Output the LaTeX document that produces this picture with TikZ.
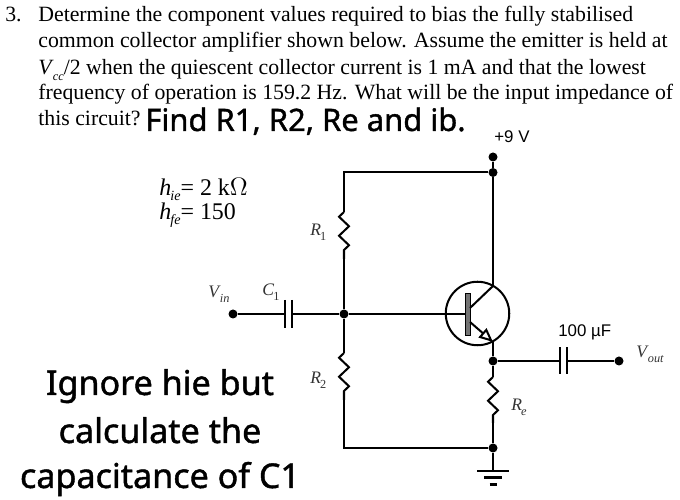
\documentclass[tikz,border=0pt]{standalone}
\usepackage{fontspec}
\setmainfont{Liberation Serif}
\setsansfont{Liberation Sans}
\newfontfamily\notefont[FakeBold=1.2]{Noto Sans}
\usetikzlibrary{arrows.meta,decorations.pathmorphing}
\newcommand{\sub}[2]{\textit{#1}\kern-0.5pt\raisebox{-0.6ex}{\scriptsize\textit{#2}}}
\newcommand{\subbig}[2]{\textit{#1}\kern-0.5pt\raisebox{-0.45ex}{\footnotesize\textit{#2}}}
\tikzset{
    wire/.style={line width=1.15pt},
    junction/.style={circle, fill=black, inner sep=0pt, minimum size=0.18cm},
    resistor/.style={wire, decorate, decoration={zigzag, segment length=3.8mm, amplitude=-1mm}},
    question/.style={anchor=base west, inner sep=0pt, font=\fontsize{12.4}{14}\selectfont},
    bigtext/.style={anchor=base, inner sep=0pt, font=\notefont\fontsize{19.4}{23}\selectfont},
    circlabel/.style={anchor=base west, inner sep=0pt, text=black!80, font=\fontsize{10}{12}\selectfont},
    value/.style={anchor=base west, inner sep=0pt, font=\fontsize{13.6}{16}\selectfont},
    sanslabel/.style={anchor=base west, inner sep=0pt, font=\sffamily\fontsize{9.6}{11}\selectfont}
}
\begin{document}
\begin{tikzpicture}
    \useasboundingbox (0,0) rectangle (13.6,10);

    % Question text
    \node[question] (num) at (0.10,9.57) {3.};
    \node[question] (line1) at (0.76,9.57) {Determine the component values required to bias the fully stabilised};
    \node[question] (line2) at (0.76,9.05) {common collector amplifier shown below. Assume the emitter is held at};
    \node[question] (line3) at (0.76,8.51) {\sub{V}{cc}/2 when the quiescent collector current is 1 mA and that the lowest};
    \node[question] (line4) at (0.76,8.01) {frequency of operation is 159.2 Hz. What will be the input impedance of};
    \node[question] (line5) at (0.76,7.49) {this circuit?};
    \node[anchor=base west, inner sep=0pt, font=\notefont\fontsize{17.6}{21}\selectfont] (find) at (2.90,7.38) {Find R1, R2, Re and ib.};

    % Handwritten style notes
    \node[bigtext] (note1) at (3.20,2.10) {Ignore hie but};
    \node[bigtext] (note2) at (3.20,1.14) {calculate the};
    \node[bigtext] (note3) at (3.20,0.24) {capacitance of C1};

    % Points of the circuit
    \node[junction] (vcc) at (9.86,6.86) {};
    \node[junction] (top) at (9.86,6.55) {};
    \coordinate (topleft) at (6.88,6.55);
    \coordinate (r1a) at (6.88,5.76);
    \coordinate (r1b) at (6.88,4.82);
    \node[junction] (base) at (6.88,3.72) {};
    \coordinate (r2a) at (6.88,2.94);
    \coordinate (r2b) at (6.88,2.00);
    \coordinate (botleft) at (6.88,1.04);
    \node[junction] (vin) at (4.66,3.72) {};
    \coordinate (c1a) at (5.70,3.72);
    \coordinate (c1b) at (5.84,3.72);
    \node[junction] (emit) at (9.86,2.78) {};
    \coordinate (rea) at (9.86,2.46);
    \coordinate (reb) at (9.86,1.54);
    \node[junction] (bot) at (9.86,1.04) {};
    \coordinate (gnd) at (9.86,0.58);
    \coordinate (c2a) at (11.20,2.78);
    \coordinate (c2b) at (11.34,2.78);
    \node[junction] (vout) at (12.38,2.78) {};

    % Transistor
    \node[draw, wire, circle, inner sep=0pt, minimum size=1.27cm] (q1) at (9.55,3.73) {};
    \node[draw=black, fill=black!55, line width=0.4pt, inner sep=0pt, minimum width=0.1cm, minimum height=0.84cm] (bar) at (9.354,3.72) {};
    \coordinate (cin) at (9.40,3.84);
    \coordinate (cout) at (9.86,4.28);
    \coordinate (ein) at (9.40,3.56);
    \coordinate (eout) at (9.86,3.16);
    \draw[wire] (cin) -- (cout);
    \draw[wire, -{Triangle[open, length=2.8mm, width=2.4mm]}] (ein) -- (eout);

    % Wires
    \draw[wire] (vcc) -- (top) -- (cout);
    \draw[wire] (top) -- (topleft) -- (r1a);
    \draw[resistor] (r1a) -- (r1b);
    \draw[wire] (r1b) -- (base) -- (r2a);
    \draw[resistor] (r2a) -- (r2b);
    \draw[wire] (r2b) -- (botleft) -- (bot);
    \draw[wire] (vin) -- (c1a);
    \draw[wire] (c1b) -- (base) -- (bar);
    \draw[wire] (eout) -- (emit) -- (rea);
    \draw[resistor] (rea) -- (reb);
    \draw[wire] (reb) -- (bot) -- (gnd);
    \draw[wire] (emit) -- (c2a);
    \draw[wire] (c2b) -- (vout);

    % Capacitor plates
    \draw[wire] ([yshift=0.28cm]c1a) -- ([yshift=-0.28cm]c1a);
    \draw[wire] ([yshift=0.28cm]c1b) -- ([yshift=-0.28cm]c1b);
    \draw[wire] ([yshift=0.27cm]c2a) -- ([yshift=-0.27cm]c2a);
    \draw[wire] ([yshift=0.27cm]c2b) -- ([yshift=-0.27cm]c2b);

    % Ground
    \draw[wire] ([xshift=-0.32cm]gnd) -- ([xshift=0.32cm]gnd);
    \draw[wire] ([xshift=-0.18cm,yshift=-0.13cm]gnd) -- ([xshift=0.18cm,yshift=-0.13cm]gnd);
    \draw[wire] ([xshift=-0.07cm,yshift=-0.27cm]gnd) -- ([xshift=0.07cm,yshift=-0.27cm]gnd);

    % Labels
    \node[sanslabel] (supply) at (9.88,7.14) {+9 V};
    \node[value] (hie) at (3.18,6.08) {\subbig{h}{ie}= 2 k$\Omega$};
    \node[value] (hfe) at (3.18,5.60) {\subbig{h}{fe}= 150};
    \node[circlabel] (vinlab) at (4.16,4.04) {\sub{V}{in}};
    \node[circlabel] (c1lab) at (5.24,4.08) {\sub{C}{\textup{1}}};
    \node[circlabel] (r1lab) at (6.20,5.28) {\sub{R}{\textup{1}}};
    \node[circlabel] (r2lab) at (6.20,2.32) {\sub{R}{\textup{2}}};
    \node[circlabel] (relab) at (10.22,1.78) {\sub{R}{e}};
    \node[circlabel] (voutlab) at (12.72,2.84) {\sub{V}{out}};
    \node[sanslabel] (c2lab) at (11.16,3.26) {100 µF};
\end{tikzpicture}
\end{document}
